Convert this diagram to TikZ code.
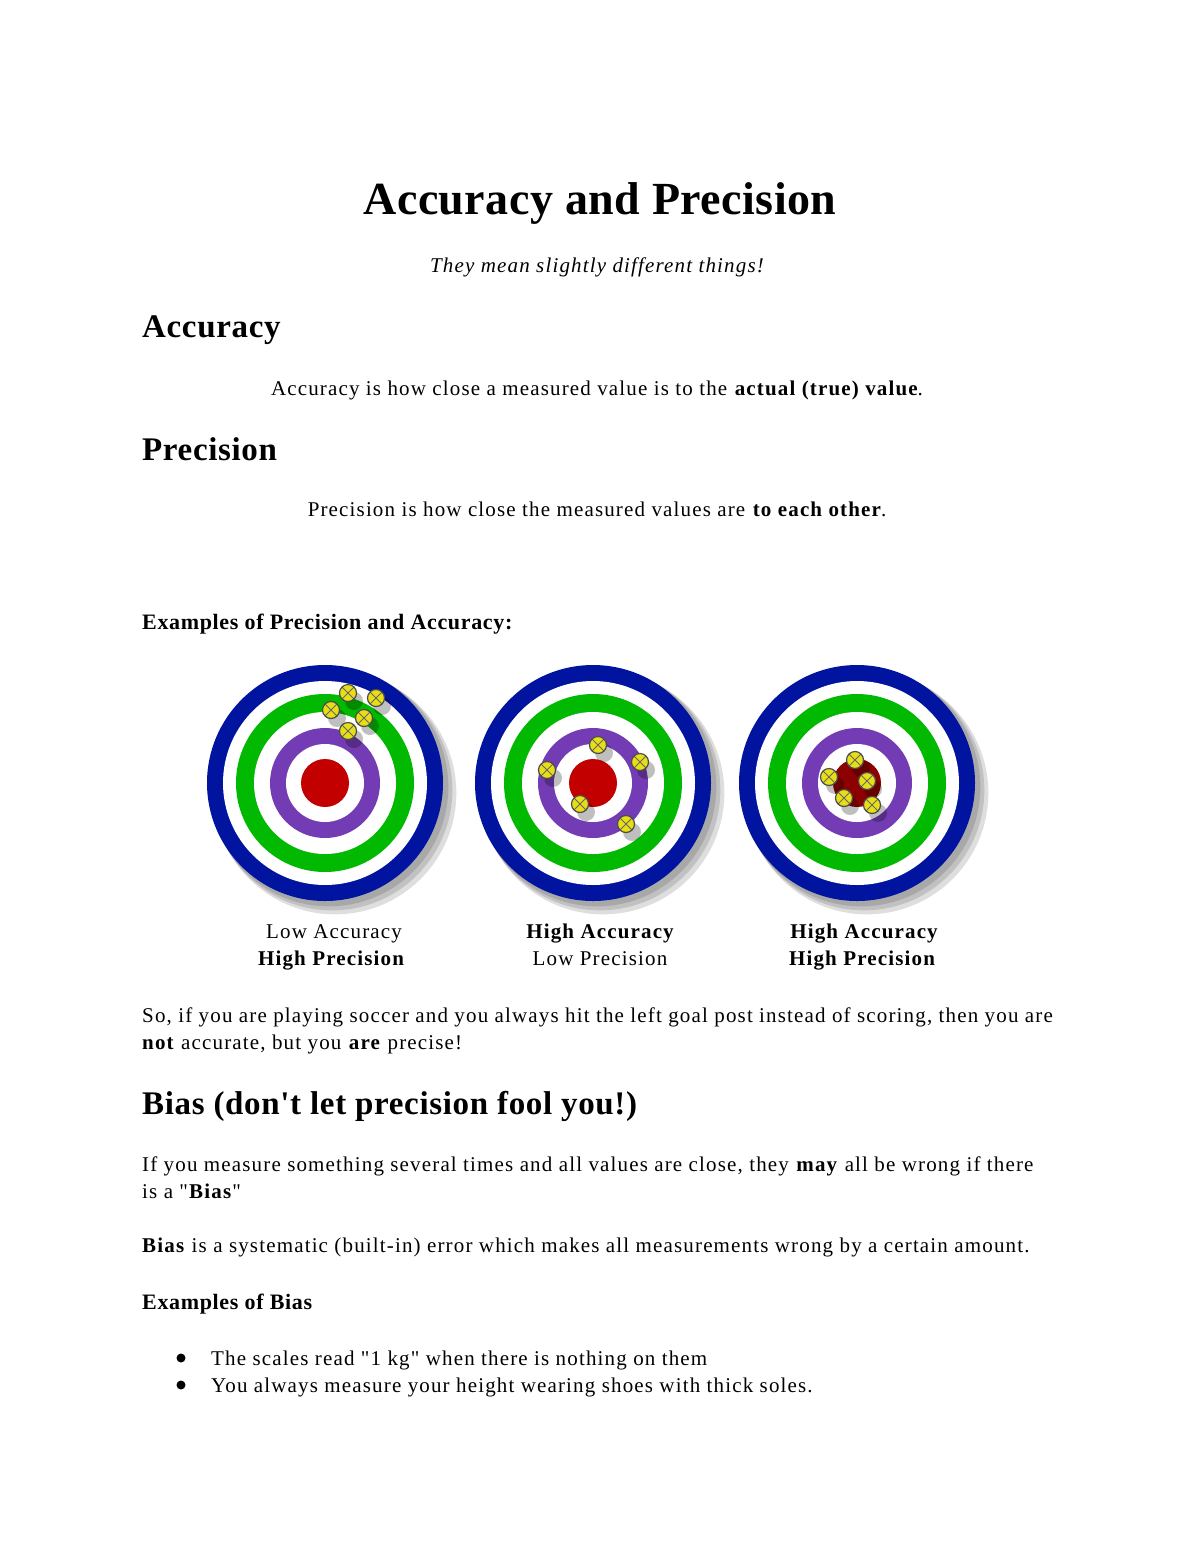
\documentclass[tikz,border=0pt]{standalone}
\usepackage{fontspec}
\setmainfont{Liberation Serif}[Ligatures=TeXOff]
\newcommand{\bodyf}{\fontsize{21}{25}\selectfont\addfontfeature{LetterSpace=5.5}}
\begin{document}
\begin{tikzpicture}[x=1pt,y=-1pt,
  txt/.style={anchor=base west,inner sep=0pt,font=\bodyf},
  ctxt/.style={anchor=base,inner sep=0pt,font=\bodyf},
  head/.style={anchor=base west,inner sep=0pt,font=\fontsize{33}{38}\selectfont\bfseries\addfontfeature{LetterSpace=2}},
  shot/.style={circle,draw=black!70,fill=yellow!90!black,line width=1.2pt,minimum size=17pt,inner sep=0pt,
    path picture={\draw[black!60,line width=0.8pt] (path picture bounding box.north west)--(path picture bounding box.south east) (path picture bounding box.north east)--(path picture bounding box.south west);}}]
\useasboundingbox (0,0) rectangle (1200,1553);
\fill[white] (0,0) rectangle (1200,1553);
\definecolor{tblue}{RGB}{0,20,160}
\definecolor{tgreen}{RGB}{0,185,0}
\definecolor{tpurple}{RGB}{115,60,180}
\definecolor{tred}{RGB}{195,0,0}
\definecolor{tdred}{RGB}{140,0,0}
\newcommand{\target}[4]{%
  \foreach \o in {10,7,4}{\fill[black,opacity=0.13] (#1+\o,#2+\o) circle (118+\o/3);}
  \fill[tblue] (#1,#2) circle (118);
  \fill[white] (#1,#2) circle (102);
  \fill[tgreen] (#1,#2) circle (89);
  \fill[white] (#1,#2) circle (71);
  \fill[tpurple] (#1,#2) circle (55);
  \fill[white] (#1,#2) circle (39);
  \fill[#4] (#1,#2) circle (24);
  \node[inner sep=0pt] (#3) at (#1,#2) {};}
\node[anchor=base,inner sep=0pt,font=\fontsize{46}{50}\selectfont\bfseries\addfontfeature{LetterSpace=1}] (title) at (600,214) {Accuracy and Precision};
\node[ctxt,font=\bodyf\itshape] (sub) at (597,272) {They mean slightly different things!};
\node[head] (hacc) at (142,337) {Accuracy};
\node[ctxt] (tacc) at (597,395) {Accuracy is how close a measured value is to the \textbf{actual (true) value}.};
\node[head] (hpre) at (142,460) {Precision};
\node[ctxt] (tpre) at (597,516) {Precision is how close the measured values are \textbf{to each other}.};
\node[txt,font=\fontsize{22}{26}\selectfont\bfseries\addfontfeature{LetterSpace=3}] (hex) at (142,629) {Examples of Precision and Accuracy:};
\target{325}{783}{t1}{tred}
\target{593}{783}{t2}{tred}
\target{857}{783}{t3}{tdred}
\foreach \x/\y [count=\i] in {348/693,376/698,331/710,364/718,348/731}{\fill[black,opacity=0.25] (\x+6,\y+8) circle (9); \node[shot] (s1\i) at (\x,\y) {};}
\foreach \x/\y [count=\i] in {598/745,547/770,640/762,580/804,626/824}{\fill[black,opacity=0.25] (\x+6,\y+8) circle (9); \node[shot] (s2\i) at (\x,\y) {};}
\foreach \x/\y [count=\i] in {855/760,829/777,867/781,844/798,872/805}{\fill[black,opacity=0.25] (\x+6,\y+8) circle (9); \node[shot] (s3\i) at (\x,\y) {};}
\node[ctxt] (l1a) at (334,938) {Low Accuracy};
\node[ctxt,font=\bodyf\bfseries] (l1b) at (331,965) {High Precision};
\node[ctxt,font=\bodyf\bfseries] (l2a) at (600,938) {High Accuracy};
\node[ctxt] (l2b) at (600,965) {Low Precision};
\node[ctxt,font=\bodyf\bfseries] (l3a) at (864,938) {High Accuracy};
\node[ctxt,font=\bodyf\bfseries] (l3b) at (862,965) {High Precision};
\node[txt] (so1) at (142,1022) {So, if you are playing soccer and you always hit the left goal post instead of scoring, then you are};
\node[txt] (so2) at (142,1049) {\textbf{not} accurate, but you \textbf{are} precise!};
\node[head] (hbias) at (142,1114) {Bias (don't let precision fool you!)};
\node[txt] (b1) at (142,1171) {If you measure something several times and all values are close, they \textbf{may} all be wrong if there};
\node[txt] (b2) at (142,1198) {is a "\textbf{Bias}"};
\node[txt] (b3) at (142,1252) {\textbf{Bias} is a systematic (built-in) error which makes all measurements wrong by a certain amount.};
\node[txt,font=\fontsize{22}{26}\selectfont\bfseries\addfontfeature{LetterSpace=3}] (hexb) at (142,1309) {Examples of Bias};
\fill (181,1358) circle (4.5);
\fill (181,1385) circle (4.5);
\node[txt] (e1) at (211,1365) {The scales read "1 kg" when there is nothing on them};
\node[txt] (e2) at (211,1392) {You always measure your height wearing shoes with thick soles.};
\end{tikzpicture}
\end{document}
